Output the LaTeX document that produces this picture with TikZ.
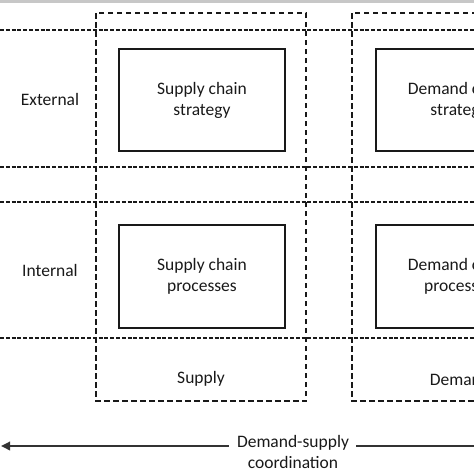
\documentclass[tikz,border=0pt]{standalone}
\usepackage{fontspec}
\setmainfont{Carlito}
\usetikzlibrary{arrows.meta}
\begin{document}
\begin{tikzpicture}[x=1pt,y=-1pt,
  lbl/.style={font=\fontsize{17.5}{21}\selectfont, text=black!90, align=center, inner sep=0pt},
  solidbox/.style={draw=black!90, line width=2pt},
  colbox/.style={draw=black!90, line width=1.9pt, dash pattern=on 5.5pt off 3.5pt},
  rowline/.style={draw=black!90, line width=1.8pt, dash pattern=on 4pt off 1.8pt},
  conn/.style={draw=black!80, line width=1.8pt}]
\useasboundingbox (0,0) rectangle (474,474);
\clip (0,0) rectangle (474,474);
\fill[black!22] (0,0) rectangle (474,2.5);
% row lines
\draw[rowline] (0,30) -- (474,30);
\draw[rowline] (0,167) -- (474,167);
\draw[rowline] (0,202) -- (474,202);
\draw[rowline] (0,338) -- (474,338);
% column boxes
\draw[colbox] (96,13) rectangle (306,401);
\draw[colbox] (352,13) rectangle (562,401);
% solid boxes
\node[solidbox, lbl, minimum width=166pt, minimum height=102pt, anchor=north west] (scs) at (118,48) {Supply chain\\strategy};
\node[solidbox, lbl, minimum width=166pt, minimum height=103pt, anchor=north west] (scp) at (118,224) {Supply chain\\processes};
\node[solidbox, lbl, minimum width=166pt, minimum height=102pt, anchor=north west] (dcs) at (375,48) {Demand chain\\strategy};
\node[solidbox, lbl, minimum width=166pt, minimum height=103pt, anchor=north west] (dcp) at (375,224) {Demand chain\\processes};
% labels
\node[lbl] (ext) at (50,99) {External};
\node[lbl] (int) at (50,270) {Internal};
\node[lbl] (sup) at (201,379) {Supply};
\node[lbl] (dem) at (460,379) {Demand};
\node[lbl] (coord) at (293,452) {Demand-supply\\coordination};
% arrow
\coordinate (lend) at (1,446);
\coordinate (rend) at (474,446);
\draw[conn, -{Triangle[length=9pt,width=8.5pt]}] (coord.west |- lend) ++(-8,0) -- (lend);
\draw[conn] (coord.east |- rend) ++(7,0) -- (rend);
\end{tikzpicture}
\end{document}
